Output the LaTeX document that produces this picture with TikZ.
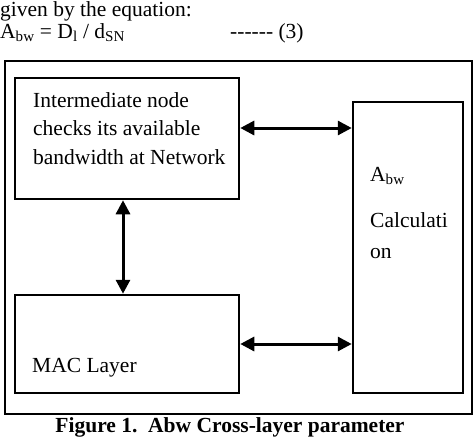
\documentclass[tikz,border=0pt]{standalone}
\usepackage{fontspec}
\setmainfont{Liberation Serif}
\usetikzlibrary{arrows.meta}

\tikzset{
  box/.style={draw, line width=2.5pt, inner sep=0pt},
  txt/.style={inner sep=0pt, font=\fontsize{21.5}{28.5}\selectfont},
  dbl/.style={line width=3pt, {Triangle[length=14pt,width=14pt]}-{Triangle[length=14pt,width=14pt]}}
}

\begin{document}
\begin{tikzpicture}[x=1pt,y=-1pt]

      \useasboundingbox (0,0) rectangle (474,437);

      % Equation above the figure
      \node[txt, anchor=base west] (given) at (0,16) {given by the equation:};
      \node[txt, anchor=base west] (eqn) at (0,38.5) {A\textsubscript{bw} = D\textsubscript{l} / d\textsubscript{SN}};
      \node[txt, anchor=base west] (eqno) at (230,38.5) {-{}-{}-{}-{}-{}- (3)};

      % Boxes
      \node[box, minimum width=467, minimum height=353] (frame) at (238.5,237.5) {};
      \node[box, minimum width=224, minimum height=121] (inter) at (127,138.5) {};
      \node[box, minimum width=224, minimum height=98] (mac) at (127,344) {};
      \node[box, minimum width=110, minimum height=291] (calc) at (408,247.5) {};

      % Labels
      \node[txt, anchor=north west, align=left] (intertext) at (33,92)
        {Intermediate node\\checks its available\\bandwidth at Network};
      \node[txt, anchor=base west] (mactext) at (32,372.5) {MAC Layer};
      \node[txt, anchor=base west] (abw) at (370,181.5) {A\textsubscript{bw}};
      \node[txt, anchor=north west, align=left, font=\fontsize{21.5}{30.5}\selectfont] (calctext) at (370,212.5)
        {Calculati\\on};
      \node[txt, anchor=base, font=\fontsize{21.5}{24}\selectfont\bfseries] (caption) at (230,432)
        {Figure 1.~~Abw Cross-layer parameter};

      % Arrows
      \draw[dbl] ([yshift=10.5pt]inter.east) -- ([yshift=10.5pt]inter.east -| calc.west);
      \draw[dbl] (mac.east) -- (mac.east -| calc.west);
      \draw[dbl] ([xshift=-4pt]inter.south) -- ([xshift=-4pt]mac.north);

\end{tikzpicture}
\end{document}
